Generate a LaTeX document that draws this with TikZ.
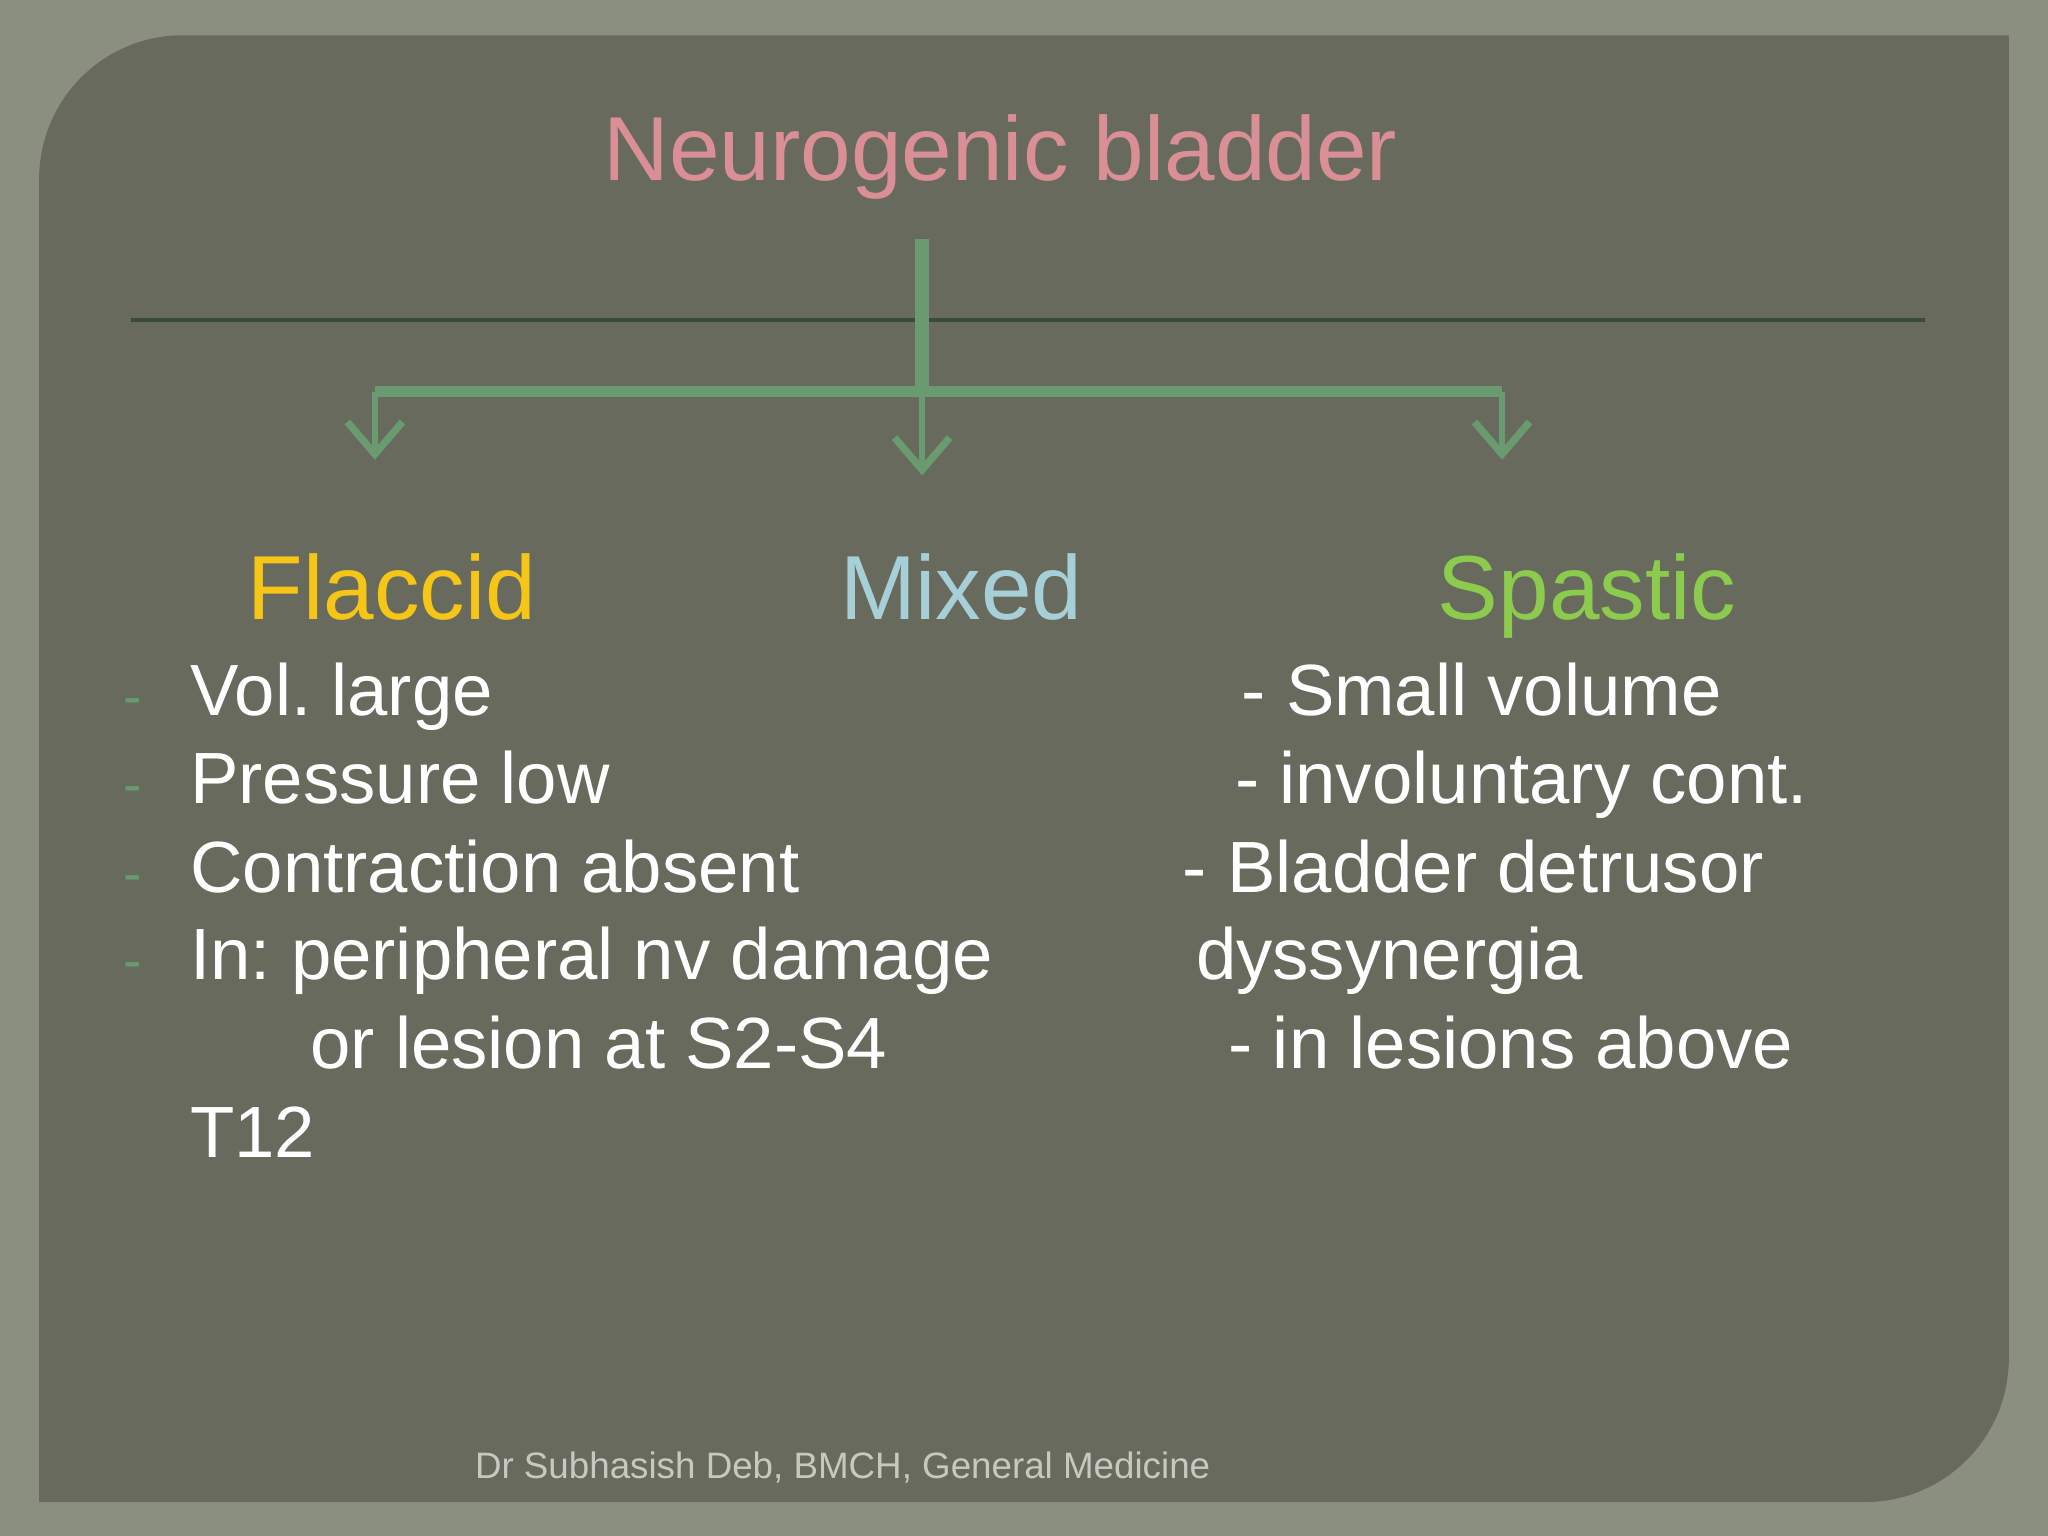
\documentclass[tikz,border=0pt]{standalone}
\usepackage{fontspec}
\setmainfont{Liberation Sans}
\usetikzlibrary{arrows.meta}
\definecolor{outer}{HTML}{8A8F80}
\definecolor{panel}{HTML}{676A5C}
\definecolor{grn}{HTML}{6A9A70}
\definecolor{dline}{HTML}{3A4A3C}
\definecolor{ttl}{HTML}{D98F95}
\definecolor{flc}{HTML}{F5C518}
\definecolor{mix}{HTML}{A7CFD8}
\definecolor{spa}{HTML}{8CCB4E}
\definecolor{foot}{HTML}{C8C8C0}
\frenchspacing
\tikzset{
 body/.style={anchor=base west,text=white,font=\fontsize{15.8}{18}\selectfont,inner sep=0pt},
 head/.style={anchor=base,font=\fontsize{19.8}{22}\selectfont,inner sep=0pt},
 dsh/.style={anchor=base west,text=grn,font=\fontsize{12}{14}\selectfont,inner sep=0pt},
 arr/.style={grn,line width=1.4pt,-{Straight Barb[length=7pt,width=12pt,line width=1.6pt]}}
}
\begin{document}
\frenchspacing
\begin{tikzpicture}[x=0.01cm,y=-0.01cm]
\fill[outer] (0,0) rectangle (1568,1176);
\fill[panel] (30,137) arc[start angle=180,end angle=270,radius=110] -- (1538,27) -- (1538,1040) arc[start angle=0,end angle=90,radius=110] -- (30,1150) -- cycle;
\node[anchor=base,text=ttl,font=\fontsize{19.8}{24}\selectfont,inner sep=0pt] (title) at (766,138) {Neurogenic bladder};
\draw[dline,line width=0.7pt] (100,245) -- (1474,245);
\coordinate (top) at (706,183);
\coordinate (mid) at (706,300);
\coordinate (l) at (287,300);
\coordinate (r) at (1150,300);
\draw[grn,line width=3pt] (top) -- (mid);
\draw[grn,line width=2.4pt] (l) -- (r);
\coordinate (le) at (287,352);
\coordinate (me) at (706,364);
\coordinate (re) at (1150,352);
\draw[arr] (l) -- (le);
\draw[arr] (mid) -- (me);
\draw[arr] (r) -- (re);
\node[head,text=flc] (fl) at (300,474) {Flaccid};
\node[head,text=mix] (mx) at (736,474) {Mixed};
\node[head,text=spa] (sp) at (1215,474) {Spastic};
\foreach \y/\t [count=\i] in {548/Vol. large,615/Pressure low,683/Contraction absent,750/In: peripheral nv damage}{
 \node[dsh] (d\i) at (94,\y) {-};
 \node[body] (b\i) at (145,\y) {\t};
}
\node[body] (b5) at (237,818) {or lesion at S2-S4};
\node[body] (b6) at (145,886) {T12};
\node[body] (s1) at (950,548) {- Small volume};
\node[body] (s2) at (945,615) {- involuntary cont.};
\node[body] (s3) at (905,683) {- Bladder detrusor};
\node[body] (s4) at (915,750) {dyssynergia};
\node[body] (s5) at (940,818) {- in lesions above};
\node[anchor=base west,text=foot,font=\fontsize{8}{10}\selectfont,inner sep=0pt] (ft) at (363,1132) {Dr Subhasish Deb, BMCH, General Medicine};
\end{tikzpicture}
\end{document}
